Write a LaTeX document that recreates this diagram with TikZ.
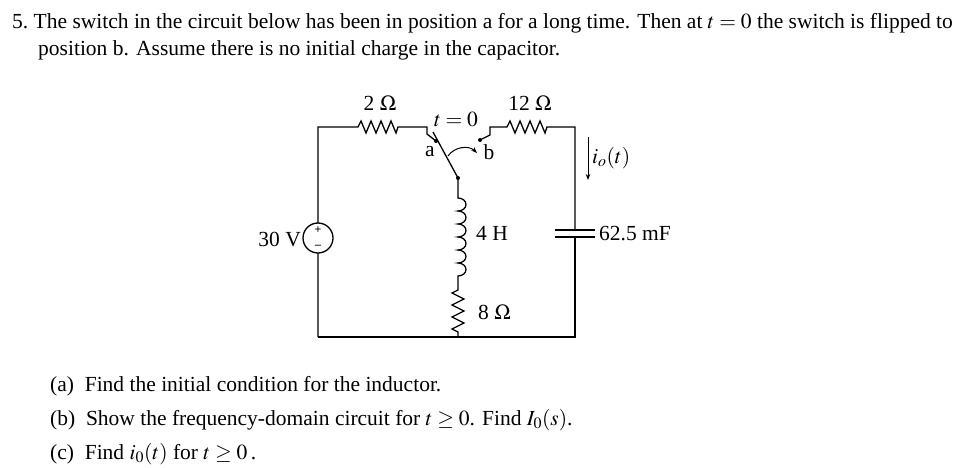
\documentclass[tikz,border=0pt]{standalone}
\usepackage{mathptmx}
\usepackage{fontspec}
\setmainfont{Liberation Serif}
\usetikzlibrary{arrows.meta}
\begin{document}
\begin{tikzpicture}[x=1pt,y=-1pt,font=\fontsize{21.5}{25}\selectfont,
  wire/.style={line width=1.3pt},
  txt/.style={inner sep=0pt,anchor=base west},
  lab/.style={inner sep=1pt}]
\useasboundingbox (0,0) rectangle (953,468);
% text
\node[txt] (l1) at (12,29) {5.\ The switch in the circuit below has been in position a for a long time. Then at $t=0$ the switch is flipped to};
\node[txt] (l2) at (38,56) {position b. Assume there is no initial charge in the capacitor.};
\node[txt] (qa) at (50,391) {(a)\ \ Find the initial condition for the inductor.};
\node[txt] (qb) at (50,425) {(b)\ \ Show the frequency-domain circuit for $t\geq 0$. Find $I_0(s)$.};
\node[txt] (qc) at (50,459) {(c)\ \ Find $i_0(t)$ for $t\geq 0$\,.};
% coordinates
\coordinate (tl) at (318,127);
\coordinate (bl) at (318,337);
\coordinate (tr) at (575,127);
\coordinate (br) at (575,337);
\coordinate (pa) at (436,141);
\coordinate (pb) at (480,140);
\coordinate (pv) at (458,178);
\coordinate (bm) at (458,337);
% left branch with source
\draw[wire] (bl) -- (318,253) (318,223) -- (tl) -- (358,127)
  -- (361,121) -- (366,133) -- (371,121) -- (376,133) -- (381,121) -- (386,133) -- (391,121) -- (396,133) -- (398,127)
  -- (427,127) -- (427,134) -- (pa);
\node[draw,circle,line width=1.3pt,minimum size=30pt,inner sep=0pt] (src) at (318,238) {};
\node[font=\fontsize{12}{12}\selectfont\bfseries,inner sep=0pt] (plus) at (318,230) {+};
\node[font=\fontsize{12}{12}\selectfont\bfseries,inner sep=0pt] (minus) at (318,247) {\textendash};
\node[lab,anchor=east] (v) at (302,240) {30 V};
% switch
\draw[wire] (pv) -- (433,132);
\fill (pa) circle (2pt) (pb) circle (2pt) (pv) circle (2pt);
\draw[-{Stealth[length=6pt]},line width=1pt] (448,156) to[bend left=50] (477,153);
% right top
\draw[wire] (pb) -- (490,135) -- (490,127) -- (507,127)
  -- (510,121) -- (515,133) -- (520,121) -- (525,133) -- (530,121) -- (535,133) -- (540,121) -- (545,133) -- (547,127)
  -- (tr) -- (575,230);
\draw[wire] (575,237) -- (br) -- (bl);
\draw[line width=1.6pt] (555,230) -- (595,230) (555,237) -- (595,237);
\node[lab,anchor=west] (c) at (598,234) {62.5 mF};
% middle branch
\draw[wire] (pv) -- (458,198)
  arc (-90:90:8 and 6.5) arc (-90:90:8 and 6.5) arc (-90:90:8 and 6.5)
  arc (-90:90:8 and 6.5) arc (-90:90:8 and 6.5) arc (-90:90:8 and 6.5)
  -- (458,290) -- (452,293) -- (464,299) -- (452,305) -- (464,311) -- (452,317) -- (464,323) -- (452,329) -- (458,332) -- (bm);
\node[lab,anchor=west] (ind) at (475,233) {4 H};
\node[lab,anchor=west] (r8) at (477,312) {8 $\Omega$};
% labels
\node[lab] (r2) at (380,103) {2 $\Omega$};
\node[lab] (r12) at (530,103) {12 $\Omega$};
\node[lab] (t0) at (456,119) {$t=0$};
\node[lab] (a) at (430,152) {a};
\node[lab] (b) at (489,152) {b};
\coordinate (ar1) at (588,137);
\coordinate (ar2) at (588,180);
\draw[-{Stealth[length=6pt]},line width=1pt] (ar1) -- (ar2);
\node[lab,anchor=west] (io) at (591,158) {$i_o(t)$};
\end{tikzpicture}
\end{document}
